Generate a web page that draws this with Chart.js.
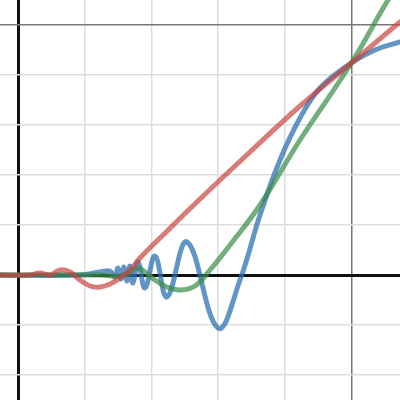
<!DOCTYPE html>
<html>
<head>
<script src="https://cdn.jsdelivr.net/npm/chart.js@4"></script>
<style>html,body{margin:0;padding:0;background:#fff}#c{width:400px;height:400px}</style>
</head>
<body>
<div id="c"><canvas id="chart"></canvas></div>
<script>
const redX = [-0.06,0.036,0.066,0.096,0.126,0.156,0.186,0.216,0.246,0.276,0.306,0.336,0.366,0.426,0.546,0.696,0.846,1.0,1.146];
const redY = [0,0,0.008,0,0.02,0.012,-0.02,-0.044,-0.048,-0.036,-0.012,0.02,0.068,0.148,0.304,0.492,0.676,0.848,1.012];
const blueX = [-0.06,0.186,0.246,0.276,0.291,0.3,0.309,0.318,0.327,0.336,0.345,0.36,0.381,0.411,0.447,0.507,0.6,0.666,0.726,0.786,0.846,0.906,1.0,1.071,1.146];
const blueY = [0,0,0.012,0.016,-0.008,0.028,-0.016,0.032,-0.024,0.036,-0.032,0.052,-0.052,0.076,-0.088,0.132,-0.212,-0.02,0.24,0.46,0.628,0.748,0.848,0.9,0.932];
const greenX = [-0.06,0.246,0.306,0.336,0.36,0.381,0.411,0.447,0.486,0.531,0.576,0.636,0.726,0.846,1.0,1.11,1.146];
const greenY = [0,0,-0.004,0.012,0.028,0.012,-0.02,-0.048,-0.06,-0.044,0.02,0.12,0.28,0.54,0.848,1.1,1.17];
const xGrid = [0, 0.2, 0.4, 0.6, 0.8, 1.0];
const yGrid = [-0.4, -0.2, 0, 0.2, 0.4, 0.6, 0.8, 1.0];

const pts = (xs, ys) => xs.map((x, i) => ({x: x, y: ys[i]}));

function gridColor(ctx) {
  const v = Math.round(ctx.tick.value * 10) / 10;
  if (v === 0) return '#111';
  if (v === 1) return '#777';
  return '#ddd';
}
function gridWidth(ctx) {
  const v = Math.round(ctx.tick.value * 10) / 10;
  return v === 0 ? 3 : 1.5;
}

new Chart(document.getElementById('chart'), {
  type: 'line',
  data: {
    datasets: [
      {data: pts(redX, redY), borderColor: 'rgba(199,68,64,0.7)'},
      {data: pts(greenX, greenY), borderColor: 'rgba(56,140,70,0.7)'},
      {data: pts(blueX, blueY), borderColor: 'rgba(45,112,179,0.75)'}
    ]
  },
  options: {
    animation: false,
    responsive: true,
    maintainAspectRatio: false,
    layout: {padding: 0},
    elements: {
      point: {radius: 0},
      line: {borderWidth: 5, tension: 0.4, fill: false, borderCapStyle: 'round'}
    },
    plugins: {legend: {display: false}, tooltip: {enabled: false}},
    scales: {
      x: {
        type: 'linear', min: -0.054, max: 1.146,
        afterBuildTicks: s => { s.ticks = xGrid.map(v => ({value: v})); },
        ticks: {display: false},
        border: {display: false},
        grid: {color: gridColor, lineWidth: gridWidth, drawTicks: false}
      },
      y: {
        type: 'linear', min: -0.5, max: 1.1,
        afterBuildTicks: s => { s.ticks = yGrid.map(v => ({value: v})); },
        ticks: {display: false},
        border: {display: false},
        grid: {color: gridColor, lineWidth: gridWidth, drawTicks: false}
      }
    }
  }
});
</script>
</body>
</html>
